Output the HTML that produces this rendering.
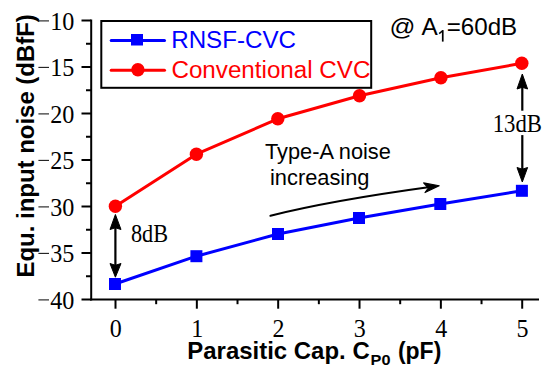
<!DOCTYPE html>
<html><head><meta charset="utf-8"><style>
html,body{margin:0;padding:0;background:#fff;}
svg{display:block;}
.serif{font-family:"Liberation Serif",serif;}
.sans{font-family:"Liberation Sans",sans-serif;}
</style></head><body>
<svg width="550" height="373" viewBox="0 0 550 373">
<rect x="0" y="0" width="550" height="373" fill="#fff"/>
<g stroke="#000" stroke-width="2" fill="none">
<line x1="91.2" y1="19.5" x2="91.2" y2="300.5"/>
<line x1="90.2" y1="299.5" x2="539" y2="299.5"/>
<line x1="81.5" y1="20.50" x2="91" y2="20.50"/>
<line x1="81.5" y1="67.00" x2="91" y2="67.00"/>
<line x1="81.5" y1="113.50" x2="91" y2="113.50"/>
<line x1="81.5" y1="160.00" x2="91" y2="160.00"/>
<line x1="81.5" y1="206.50" x2="91" y2="206.50"/>
<line x1="81.5" y1="253.00" x2="91" y2="253.00"/>
<line x1="81.5" y1="299.50" x2="91" y2="299.50"/>
<line x1="86" y1="43.75" x2="91" y2="43.75"/>
<line x1="86" y1="90.25" x2="91" y2="90.25"/>
<line x1="86" y1="136.75" x2="91" y2="136.75"/>
<line x1="86" y1="183.25" x2="91" y2="183.25"/>
<line x1="86" y1="229.75" x2="91" y2="229.75"/>
<line x1="86" y1="276.25" x2="91" y2="276.25"/>
<line x1="115.50" y1="300" x2="115.50" y2="308.7"/>
<line x1="196.84" y1="300" x2="196.84" y2="308.7"/>
<line x1="278.18" y1="300" x2="278.18" y2="308.7"/>
<line x1="359.52" y1="300" x2="359.52" y2="308.7"/>
<line x1="440.86" y1="300" x2="440.86" y2="308.7"/>
<line x1="522.20" y1="300" x2="522.20" y2="308.7"/>
<line x1="156.17" y1="300" x2="156.17" y2="304.2"/>
<line x1="237.51" y1="300" x2="237.51" y2="304.2"/>
<line x1="318.85" y1="300" x2="318.85" y2="304.2"/>
<line x1="400.19" y1="300" x2="400.19" y2="304.2"/>
<line x1="481.53" y1="300" x2="481.53" y2="304.2"/>
</g>
<g class="serif" font-size="25" text-anchor="end" fill="#000">
<text transform="translate(74.3,29.90) scale(0.965,1)">10</text>
<text transform="translate(74.3,76.40) scale(0.965,1)">15</text>
<text transform="translate(74.3,122.90) scale(0.965,1)">20</text>
<text transform="translate(74.3,169.40) scale(0.965,1)">25</text>
<text transform="translate(74.3,215.90) scale(0.965,1)">30</text>
<text transform="translate(74.3,262.40) scale(0.965,1)">35</text>
<text transform="translate(74.3,308.90) scale(0.965,1)">40</text>
</g>
<g stroke="#1a1a1a" stroke-width="1.1">
<line x1="38.4" y1="20.90" x2="49" y2="20.90"/>
<line x1="38.4" y1="67.40" x2="49" y2="67.40"/>
<line x1="38.4" y1="113.90" x2="49" y2="113.90"/>
<line x1="38.4" y1="160.40" x2="49" y2="160.40"/>
<line x1="38.4" y1="206.90" x2="49" y2="206.90"/>
<line x1="38.4" y1="253.40" x2="49" y2="253.40"/>
<line x1="38.4" y1="299.90" x2="49" y2="299.90"/>
</g>
<g class="serif" font-size="25" text-anchor="middle" fill="#000">
<text transform="translate(115.80,336.6) scale(0.96,1)">0</text>
<text transform="translate(197.14,336.6) scale(0.96,1)">1</text>
<text transform="translate(278.48,336.6) scale(0.96,1)">2</text>
<text transform="translate(359.82,336.6) scale(0.96,1)">3</text>
<text transform="translate(441.16,336.6) scale(0.96,1)">4</text>
<text transform="translate(522.50,336.6) scale(0.96,1)">5</text>
</g>
<g class="sans" font-weight="bold" fill="#000"><text font-size="23.5" transform="translate(187.28,359) scale(1.0203,1)">Parasitic Cap. C</text><text font-size="15.5" transform="translate(370.6,364.8) scale(1.05,1)">P0</text><text font-size="23.5" transform="translate(397.92,359) scale(0.9786,1)">(pF)</text></g>
<text class="sans" font-weight="bold" font-size="23.5" transform="translate(34.3,277.5) rotate(-90) scale(1.019,1)" fill="#000">Equ. input noise (dBfF)</text>
<polyline points="115.4,206.3 196.4,154.2 277.8,118.8 359.5,95.8 440.9,77.8 521.8,63.3" fill="none" stroke="#f00" stroke-width="3" stroke-linejoin="round"/>
<g fill="#f00"><circle cx="115.4" cy="206.3" r="6.7"/><circle cx="196.4" cy="154.2" r="6.7"/><circle cx="277.8" cy="118.8" r="6.7"/><circle cx="359.5" cy="95.8" r="6.7"/><circle cx="440.9" cy="77.8" r="6.7"/><circle cx="521.8" cy="63.3" r="6.7"/></g>
<polyline points="115,284 196.4,256.2 278,234 359,218 440.3,204 521.9,190.8" fill="none" stroke="#00f" stroke-width="3" stroke-linejoin="round"/>
<g fill="#00f"><rect x="109" y="278" width="12" height="12"/><rect x="190.4" y="250.2" width="12" height="12"/><rect x="272" y="228" width="12" height="12"/><rect x="353" y="212" width="12" height="12"/><rect x="434.3" y="198" width="12" height="12"/><rect x="515.9" y="184.8" width="12" height="12"/></g>
<rect x="101.3" y="21" width="269.9" height="66.8" fill="#fff" stroke="#000" stroke-width="2"/>
<line x1="111.2" y1="40.5" x2="164.5" y2="40.5" stroke="#00f" stroke-width="3" stroke-linecap="round"/>
<rect x="131" y="34" width="12" height="11.5" fill="#00f"/>
<line x1="111.2" y1="70.3" x2="164.5" y2="70.3" stroke="#f00" stroke-width="3" stroke-linecap="round"/>
<circle cx="137.9" cy="69.8" r="6.7" fill="#f00"/>
<g class="sans" font-size="23">
<text transform="translate(171.2,48) scale(1.051,1)" fill="#00f">RNSF-CVC</text>
<text transform="translate(171.45,78) scale(1.052,1)" fill="#f00">Conventional CVC</text>
<text transform="translate(389.6,35) scale(1.11,1)" fill="#000">@</text>
<text transform="translate(421.4,34.7) scale(1.06,1)" fill="#000">A</text>
<text transform="translate(446.65,34.6) scale(1.051,1)" fill="#000">=60dB</text>
<rect x="441.9" y="30.1" width="1.7" height="11.5" fill="#000"/>
<line x1="442.6" y1="30.7" x2="439.2" y2="33.6" stroke="#000" stroke-width="1.5"/>
</g>
<g fill="#000" stroke="#000" stroke-width="1" stroke-linejoin="round">
<rect x="114.3" y="226" width="2.2" height="42" stroke="none"/>
<polygon points="115.4,214.5 121,229.5 115.4,227.8 110,229.5"/>
<polygon points="115.4,277.2 121,263.5 115.4,265.3 110,263.5"/>
</g>
<text class="serif" font-size="24.5" transform="translate(130.9,242.4) scale(0.91,1)" fill="#000">8dB</text>
<g fill="#000" stroke="#000" stroke-width="1" stroke-linejoin="round">
<rect x="521.2" y="85" width="2.2" height="25.7" stroke="none"/>
<rect x="521.2" y="135.1" width="2.2" height="36" stroke="none"/>
<polygon points="522.3,74 527.6,89 522.3,87.3 517,89"/>
<polygon points="522.3,182 527.6,167.5 522.3,169.2 517,167.5"/>
</g>
<text class="serif" font-size="24.5" transform="translate(492.65,131.5) scale(0.93,1)" fill="#000">13dB</text>
<g class="sans" font-size="22" fill="#000">
<text transform="translate(265,159.2) scale(0.99,1)">Type-A noise</text>
<text transform="translate(270,184.5) scale(0.993,1)">increasing</text>
</g>
<path d="M270.5,215.7 Q331,200.5 430,187" fill="none" stroke="#000" stroke-width="2.2" stroke-linecap="round"/>
<polygon points="439.2,185.7 423.6,182.9 428.3,188.1 425,192.6" fill="#000" stroke="#000" stroke-width="1.1" stroke-linejoin="round"/>
</svg>
</body></html>
